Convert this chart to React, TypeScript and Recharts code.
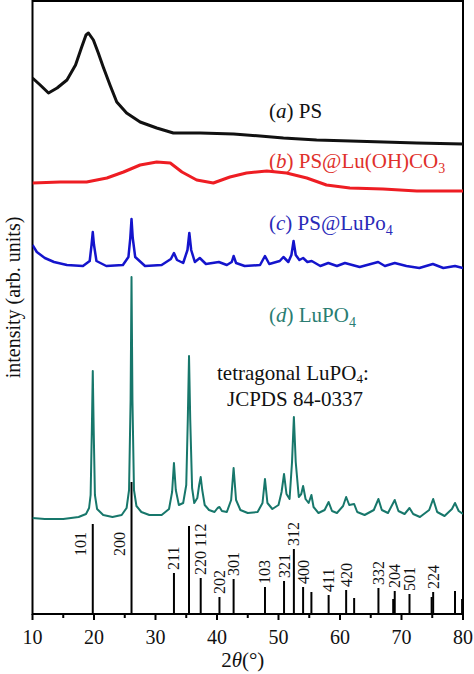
import { LineChart, Line, XAxis, YAxis, ReferenceLine, ReferenceArea } from "recharts";

const SERIF = '"Liberation Serif", "Times New Roman", Times, serif';

// (a) PS
const psTheta = [10, 11.25, 12.6, 14.0, 15.6, 17.0, 18.0, 18.7, 19.1, 19.9, 20.7, 21.5, 22.6, 23.7, 25.3, 27.5, 30.2, 32.9, 37.3, 42.7, 47.0, 50.8, 56.2, 61.7, 67.1, 72.5, 80];
const psInt = [536, 529, 521, 526, 534, 549, 567, 579, 581, 574, 561, 547, 529, 512, 501, 492, 486, 481, 481, 480, 478, 476, 474, 473, 472, 471, 470];

// (b) PS@Lu(OH)CO3
const luCarbTheta = [10, 14.5, 18.8, 22.1, 24.8, 27.5, 30.2, 32.4, 34.3, 36.7, 39.4, 42.1, 44.8, 48.1, 51.3, 54.6, 57.8, 61.6, 67.0, 72.5, 80];
const luCarbInt = [431, 432, 432, 436, 442, 449, 452, 451, 442, 434, 431, 437, 441, 443, 441, 436, 429, 426, 425, 423, 423];

// (c) PS@LuPO4
const psLuTheta = [10, 10.7, 12.0, 13.5, 15.6, 18.2, 19.3, 19.6, 19.8, 20.0, 20.4, 22.0, 24.7, 25.6, 25.9, 26.1, 26.3, 26.7, 28.3, 31.0, 32.5, 33.0, 33.5, 34.5, 35.2, 35.5, 35.8, 36.4, 37.2, 38.2, 40.3, 41.6, 42.4, 42.7, 43.1, 44.5, 47.0, 47.8, 48.5, 50.2, 50.8, 51.6, 52.1, 52.45, 52.8, 53.4, 54.0, 54.7, 55.4, 56.8, 58.1, 59.5, 60.8, 63.2, 66.2, 67.3, 68.9, 70.8, 72.9, 75.1, 76.8, 78.7, 80];
const psLuInt = [369, 362, 356, 352, 349, 348, 353, 369, 382, 369, 353, 348, 349, 357, 376, 395, 376, 357, 348, 349, 355, 361, 354, 351, 364, 381, 364, 352, 356, 350, 352, 349, 352, 358, 351, 348, 349, 358, 350, 353, 357, 352, 359, 373, 359, 354, 356, 352, 353, 348, 351, 348, 351, 347, 352, 348, 351, 348, 346, 350, 346, 348, 346];

// (d) LuPO4
const luTheta = [10, 12, 15, 17.5, 18.7, 19.2, 19.45, 19.65, 19.8, 19.95, 20.15, 20.5, 21.5, 23, 24.5, 25.3, 25.7, 25.95, 26.1, 26.25, 26.5, 26.9, 27.7, 29, 31, 32.2, 32.7, 33.0, 33.3, 33.8, 34.5, 35.0, 35.25, 35.45, 35.65, 35.95, 36.3, 36.8, 37.1, 37.35, 37.6, 38.0, 38.7, 39.6, 40.1, 40.4, 40.8, 41.6, 42.3, 42.7, 43.1, 43.8, 45, 46.6, 47.4, 47.8, 48.2, 49.0, 50.0, 50.5, 50.9, 51.3, 51.8, 52.2, 52.5, 52.8, 53.3, 53.7, 54.0, 54.4, 54.9, 55.35, 55.7, 56.5, 57.5, 58.15, 58.7, 59.5, 60.5, 61.0, 61.5, 62.3, 62.8, 64, 65.5, 66.25, 66.8, 67.8, 68.9, 69.5, 70.5, 71.3, 71.9, 73, 74.5, 75.15, 75.8, 77, 78.2, 78.7, 79.3, 80];
const luInt = [96, 95, 95, 97, 100, 106, 119, 184, 243, 184, 119, 105, 99, 97, 99, 106, 124, 214, 337, 214, 124, 108, 102, 99, 99, 105, 122, 151, 124, 109, 111, 129, 194, 258, 194, 126, 111, 116, 129, 137, 124, 109, 104, 102, 106, 107, 103, 102, 114, 146, 114, 104, 101, 102, 111, 135, 111, 105, 109, 122, 140, 120, 115, 152, 197, 152, 117, 120, 128, 115, 111, 119, 107, 101, 104, 112, 103, 101, 108, 117, 109, 110, 102, 99, 104, 115, 104, 101, 114, 103, 100, 106, 100, 97, 104, 115, 102, 98, 105, 111, 103, 100];

// JCPDS 84-0337 reference sticks
const jcpdsTheta = [19.8, 26.1, 33.0, 35.45, 37.35, 40.4, 42.7, 47.8, 50.9, 52.5, 54.0, 55.35, 58.15, 61.0, 62.3, 66.25, 68.65, 68.9, 71.3, 74.9, 75.15, 78.7, 79.85];
const jcpdsInt = [90, 132, 41, 88, 36, 17, 35, 27, 33, 65, 27, 22, 19, 24, 16, 26, 15, 23, 20, 17, 22, 23, 15];
const jcpdsHkl = ["101", "200", "211", "", "220 112", "202", "301", "103", "321", "312", "400", "", "411", "420", "", "332", "", "204", "501", "", "224", "", ""];

const xTicks = [10, 15, 20, 25, 30, 35, 40, 45, 50, 55, 60, 65, 70, 75, 80];

const toPoints = (t: number[], v: number[]) => t.map((x, i) => ({ t: x, v: v[i] }));

const psData = toPoints(psTheta, psInt);
const luCarbData = toPoints(luCarbTheta, luCarbInt);
const psLuData = toPoints(psLuTheta, psLuInt);
const luData = toPoints(luTheta, luInt);

// labels drawn beside (left of) the stick instead of above it
const SIDE_LABELS = new Set(["101", "200"]);

function AxisTick(props: any) {
  const { x, y, payload } = props;
  const major = payload.value % 10 === 0;
  return (
    <g>
      <line x1={x} x2={x} y1={y} y2={y + (major ? 6 : 4)} stroke="#000" strokeWidth={2} />
      {major && (
        <text x={x} y={y + 30} textAnchor="middle" fontSize={20} fontFamily={SERIF} fill="#111">
          {payload.value}
        </text>
      )}
    </g>
  );
}

function hklLabel(hkl: string) {
  return (props: any) => {
    const vb = props.viewBox;
    if (!hkl || !vb) return null;
    const side = SIDE_LABELS.has(hkl);
    const x = side ? vb.x - 12 : vb.x;
    const y = side ? vb.y + vb.height - 58 : vb.y - 3;
    return (
      <text
        x={x}
        y={y}
        transform={`rotate(-90 ${x} ${y})`}
        dominantBaseline="central"
        fontSize={16}
        fontFamily={SERIF}
        fill="#111"
      >
        {hkl}
      </text>
    );
  };
}

export default function App() {
  return (
    <div style={{ position: "absolute", left: 0, top: 0, width: 474, height: 674, background: "#fff" }}>
      <LineChart width={474} height={674} margin={{ top: 1, right: 11, bottom: 0, left: 0 }}>
        <XAxis
          dataKey="t"
          type="number"
          domain={[10, 80]}
          ticks={xTicks}
          interval={0}
          height={60}
          tickSize={0}
          tickMargin={0}
          tickLine={false}
          axisLine={{ stroke: "#000", strokeWidth: 2 }}
          tick={<AxisTick />}
          allowDataOverflow
          label={{
            content: (p: any) => {
              const vb = p.viewBox;
              return (
                <text x={vb.x + vb.width / 2 - 5} y={vb.y + 53} textAnchor="middle" fontSize={21} fontFamily={SERIF} fill="#111">
                  2<tspan fontStyle="italic">θ</tspan>(°)
                </text>
              );
            },
          }}
        />
        <YAxis
          type="number"
          domain={[0, 613]}
          width={32.5}
          tick={false}
          tickLine={false}
          axisLine={false}
          allowDataOverflow
          label={{
            content: (p: any) => {
              const vb = p.viewBox;
              const cx = 20;
              const cy = vb.y + vb.height / 2 - 10;
              return (
                <text x={cx} y={cy} transform={`rotate(-90 ${cx} ${cy})`} textAnchor="middle" fontSize={20} fontFamily={SERIF} fill="#111">
                  intensity (arb. units)
                </text>
              );
            },
          }}
        />

        <ReferenceArea x1={10} x2={80} y1={0} y2={613} fill="none" stroke="#000" strokeWidth={2} ifOverflow="visible" />

        {jcpdsTheta.map((t, i) => (
          <ReferenceLine
            key={t}
            segment={[{ x: t, y: 0 }, { x: t, y: jcpdsInt[i] }]}
            stroke="#000"
            strokeWidth={2}
            ifOverflow="visible"
            label={{ content: hklLabel(jcpdsHkl[i]) }}
          />
        ))}

        <Line data={psData} dataKey="v" type="linear" stroke="#111" strokeWidth={3} dot={false} isAnimationActive={false} strokeLinejoin="round" />
        <Line data={luCarbData} dataKey="v" type="linear" stroke="#ee1d23" strokeWidth={3} dot={false} isAnimationActive={false} strokeLinejoin="round" />
        <Line data={psLuData} dataKey="v" type="linear" stroke="#1414cc" strokeWidth={2.5} dot={false} isAnimationActive={false} strokeLinejoin="round" />
        <Line data={luData} dataKey="v" type="linear" stroke="#17776b" strokeWidth={2} dot={false} isAnimationActive={false} strokeLinejoin="round" />

        {/* curve annotations */}
        <text x={269} y={118} fontSize={21} fontFamily={SERIF} fill="#111">
          (<tspan fontStyle="italic">a</tspan>) PS
        </text>
        <text x={269} y={168} fontSize={21} fontFamily={SERIF} fill="#e0302a">
          (<tspan fontStyle="italic">b</tspan>) PS@Lu(OH)CO<tspan dy={5} fontSize={14}>3</tspan>
        </text>
        <text x={269} y={230} fontSize={21} fontFamily={SERIF} fill="#2a2ab8">
          (<tspan fontStyle="italic">c</tspan>) PS@LuPo<tspan dy={5} fontSize={14}>4</tspan>
        </text>
        <text x={269} y={322} fontSize={21} fontFamily={SERIF} fill="#2a7d72">
          (<tspan fontStyle="italic">d</tspan>) LuPO<tspan dy={5} fontSize={14}>4</tspan>
        </text>
        <text x={217} y={380} fontSize={21} fontFamily={SERIF} fill="#111">
          tetragonal LuPO<tspan dy={3} fontSize={13}>4</tspan>
          <tspan dy={-3}>:</tspan>
        </text>
        <text x={227} y={406} fontSize={21} fontFamily={SERIF} fill="#111">
          JCPDS 84-0337
        </text>
      </LineChart>
    </div>
  );
}
